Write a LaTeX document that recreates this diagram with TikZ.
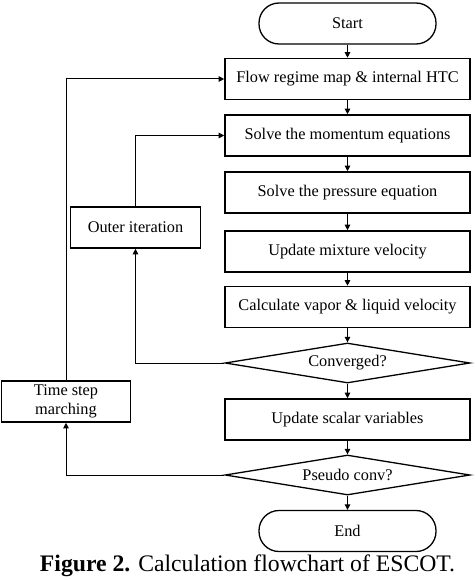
\documentclass[tikz,border=0pt]{standalone}
\usepackage{fontspec}
\setmainfont{Liberation Serif}
\usetikzlibrary{arrows.meta,shapes.geometric}
\begin{document}
\begin{tikzpicture}[x=1pt,y=1pt,
  txt/.style={font=\fontsize{16.3}{17}\selectfont},
  box/.style={draw,line width=1.6pt,minimum width=245pt,minimum height=41pt,inner sep=0pt,txt},
  term/.style={draw,line width=1.3pt,rounded corners=20pt,minimum width=177pt,minimum height=41pt,inner sep=0pt,txt},
  dec/.style={draw,line width=1.3pt,diamond,aspect=6.1,minimum width=245pt,minimum height=40pt,inner sep=0pt,txt},
  side/.style={draw,line width=1.6pt,minimum width=129pt,minimum height=41pt,inner sep=0pt,align=center,font=\fontsize{16.3}{19}\selectfont},
  arr/.style={line width=1pt,-{Triangle[width=5.5pt,length=5.5pt]}}]
\useasboundingbox (0,0) rectangle (474,-580);
\node[term] (start) at (347.5,-23.5) {Start};
\node[box] (b1) at (347.5,-79) {Flow regime map \& internal HTC};
\node[box] (b2) at (347.5,-135.5) {Solve the momentum equations};
\node[box] (b3) at (347.5,-192.5) {Solve the pressure equation};
\node[box] (b4) at (347.5,-251.5) {Update mixture velocity};
\node[box] (b5) at (347.5,-307) {Calculate vapor \& liquid velocity};
\node[dec] (conv) at (347.5,-363) {Converged?};
\node[box] (b6) at (347.5,-419.5) {Update scalar variables};
\node[dec] (pseudo) at (347.5,-475) {Pseudo conv?};
\node[term] (end) at (347.5,-531) {End};
\node[side,minimum width=130pt] (outer) at (135.5,-227.5) {Outer iteration};
\node[side] (time) at (66,-401.5) {Time step\\marching};
\draw[arr] (start) -- (b1);
\draw[arr] (b1) -- (b2);
\draw[arr] (b2) -- (b3);
\draw[arr] (b3) -- (b4);
\draw[arr] (b4) -- (b5);
\draw[arr] (b5) -- (conv);
\draw[arr] (conv) -- (b6);
\draw[arr] (b6) -- (pseudo);
\draw[arr] (pseudo) -- (end);
\draw[arr] (outer.north) |- (b2.west);
\draw[arr] (conv.west) -| (outer.south);
\draw[arr] (time.north) |- (b1.west);
\draw[arr] (pseudo.west) -| (time.south);
\node[font=\fontsize{23.7}{26}\selectfont] (cap) at (247.5,-566) {\textbf{Figure 2.} Calculation flowchart of ESCOT.};
\end{tikzpicture}
\end{document}
